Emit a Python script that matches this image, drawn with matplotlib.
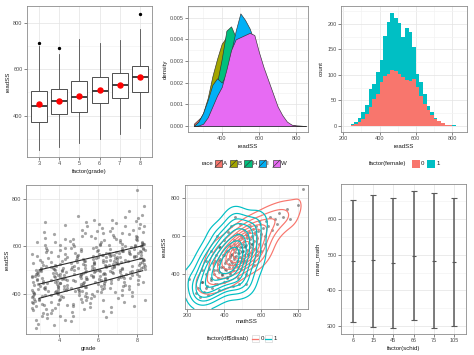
import numpy as np
import matplotlib
matplotlib.use('Agg')
import matplotlib.pyplot as plt
from matplotlib.patches import Rectangle
from matplotlib.lines import Line2D

plt.rcParams['font.family'] = ['Liberation Sans', 'DejaVu Sans']

# ---------------- data ----------------
# panel 1: boxplots of readSS by grade
grade_levels = ['3', '4', '5', '6', '7', '8']
box_whislo = [252, 267, 284, 300, 320, 345]
box_q1 = [374, 406, 417, 453, 474, 503]
box_med = [441, 463, 482, 505, 533, 565]
box_q3 = [507, 513, 548, 565, 585, 615]
box_whishi = [700, 665, 728, 711, 725, 771]
box_mean = [449, 463, 486, 510, 533, 565]
box_outliers = [[711], [690], [], [], [], [837]]

# panel 2: density of readSS by race
race_levels = ['A', 'B', 'H', 'I', 'W']
dens_x = [250, 275, 300, 325, 350, 375, 400, 425, 450, 475, 500, 525, 550,
          575, 600, 625, 650, 675, 700, 725, 750, 775, 800, 825, 850]
dens_A = [0.0001, 0.0003, 0.0005, 0.0008, 0.0012, 0.0017, 0.0022, 0.0027, 0.0031,
          0.0033, 0.0033, 0.0031, 0.0027, 0.0022, 0.0017, 0.0012, 0.0008, 0.0005,
          0.0003, 0.0002, 0.0001, 0.00005, 0.00002, 0.00001, 0]
dens_B = [0, 0.0002, 0.0006, 0.0013, 0.0023, 0.0031, 0.0038, 0.0041, 0.0038, 0.0031,
          0.0024, 0.0017, 0.0011, 0.0007, 0.0004, 0.0002, 0.0001, 0, 0, 0, 0, 0, 0, 0, 0]
dens_H = [0, 0.0001, 0.0003, 0.0007, 0.0013, 0.0020, 0.0031, 0.0044, 0.0046, 0.0041,
          0.0033, 0.0026, 0.0020, 0.0014, 0.0009, 0.0005, 0.0003, 0.0001, 0.00005,
          0, 0, 0, 0, 0, 0]
dens_I = [0, 0.0002, 0.0006, 0.0012, 0.0019, 0.0022, 0.0020, 0.0024, 0.0034, 0.0044,
          0.0052, 0.0049, 0.0045, 0.0039, 0.0031, 0.0023, 0.0016, 0.0010, 0.0005,
          0.0002, 0.0001, 0, 0, 0, 0]
dens_W = [0, 0.00002, 0.0001, 0.0004, 0.0009, 0.0014, 0.0018, 0.0026, 0.0035, 0.0040,
          0.0041, 0.0042, 0.0043, 0.0042, 0.0034, 0.0027, 0.0021, 0.0015, 0.0009,
          0.0005, 0.0002, 0.00006, 0.00002, 0.00001, 0]

# panel 3: stacked histogram of readSS by female
bin_left = [240, 260, 280, 300, 320, 340, 360, 380, 400, 420, 440, 460, 480, 500, 520,
            540, 560, 580, 600, 620, 640, 660, 680, 700, 720, 740, 760, 780, 800, 820]
female0_counts = [1, 3, 7, 13, 23, 37, 52, 63, 85, 97, 101, 110, 107, 101, 95,
                  90, 88, 92, 76, 58, 42, 30, 21, 14, 9, 5, 2, 1, 0, 0]
female1_counts = [2, 5, 8, 13, 17, 35, 30, 42, 44, 80, 102, 111, 105, 100, 79,
                  102, 96, 62, 26, 27, 20, 9, 5, 2, 1, 0, 0, 0, 1, 0]

# panel 4: jittered readSS by grade with quantile lines
grade_values = [3, 4, 5, 6, 7, 8]
read_g3 = [255, 272, 288, 296, 305, 314, 320, 329, 335, 341, 347, 352, 356, 361, 365, 369, 372,
           376, 379, 384, 388, 391, 395, 399, 402, 407, 410, 414, 418, 421, 425, 429, 432, 436, 439,
           443, 447, 450, 454, 458, 462, 465, 469, 473, 476, 480, 484, 488, 491, 495, 499, 502, 505,
           510, 516, 523, 529, 536, 543, 551, 558, 566, 575, 584, 594, 606, 620, 637, 660, 705]
read_g4 = [268, 290, 306, 318, 330, 341, 350, 358, 365, 372, 378, 384, 389, 394, 398, 402, 405,
           408, 411, 415, 418, 421, 424, 428, 431, 434, 437, 441, 444, 447, 450, 453, 456, 459, 462,
           464, 467, 469, 472, 475, 478, 480, 483, 486, 489, 492, 495, 498, 501, 504, 507, 510, 512,
           516, 521, 527, 533, 540, 546, 553, 560, 568, 576, 585, 595, 606, 618, 633, 652, 690]
read_g5 = [285, 305, 322, 335, 346, 356, 364, 372, 378, 384, 390, 396, 401, 405, 409, 413, 416,
           419, 423, 427, 430, 434, 438, 442, 445, 449, 453, 457, 460, 464, 468, 471, 475, 478, 481,
           484, 488, 492, 495, 499, 503, 507, 510, 514, 518, 522, 525, 529, 533, 537, 540, 544, 547,
           552, 558, 565, 572, 579, 587, 595, 603, 612, 621, 631, 642, 655, 669, 685, 704, 727]
read_g6 = [302, 325, 345, 360, 372, 382, 391, 399, 406, 413, 419, 425, 431, 437, 442, 447, 451,
           455, 458, 461, 464, 467, 470, 473, 476, 479, 482, 485, 488, 491, 494, 497, 500, 502, 504,
           508, 511, 515, 518, 522, 525, 529, 532, 536, 539, 543, 546, 550, 553, 556, 559, 562, 564,
           569, 574, 580, 586, 592, 598, 605, 612, 619, 627, 636, 645, 655, 666, 679, 694, 710]
read_g7 = [322, 345, 365, 381, 394, 405, 415, 423, 431, 438, 445, 451, 456, 461, 465, 469, 472,
           476, 479, 483, 486, 490, 493, 497, 500, 503, 507, 510, 514, 517, 521, 524, 527, 530, 532,
           535, 538, 541, 544, 547, 550, 553, 556, 559, 562, 565, 568, 571, 574, 577, 580, 582, 584,
           589, 594, 600, 606, 612, 618, 625, 632, 640, 648, 657, 666, 676, 688, 700, 713, 724]
read_g8 = [347, 372, 392, 408, 421, 432, 442, 451, 459, 466, 473, 479, 485, 490, 495, 499, 502,
           505, 509, 512, 516, 519, 523, 527, 530, 534, 537, 541, 544, 548, 551, 555, 558, 561, 564,
           567, 570, 573, 576, 579, 582, 585, 588, 591, 594, 597, 600, 603, 606, 608, 610, 612, 614,
           619, 625, 631, 638, 645, 652, 660, 668, 677, 686, 696, 707, 719, 732, 748, 770, 837]
qline_grade = [2.97, 8.3]
qline_q25 = [380, 497]
qline_q50 = [440, 550]
qline_q75 = [500, 603]

# panel 5: readSS vs mathSS by disab
math_d0 = [330, 345, 360, 365, 375, 380, 390, 395, 400, 405, 410, 415, 420, 425, 430, 432, 438, 440,
           445, 448, 452, 455, 458, 460, 463, 466, 470, 472, 475, 478, 480, 482, 485, 488, 490, 492,
           495, 498, 500, 503, 505, 508, 510, 513, 516, 518, 520, 523, 526, 530, 533, 536, 540, 543,
           546, 550, 553, 556, 560, 565, 570, 575, 580, 585, 590, 595, 600, 610, 620, 630, 640, 650,
           660, 675, 690, 700, 720, 740, 760, 800, 830, 350, 370, 600, 620, 300, 280, 560, 580]
read_d0 = [380, 420, 350, 455, 410, 480, 395, 440, 500, 430, 470, 385, 520, 455, 490, 410, 540, 470,
           505, 440, 560, 480, 515, 455, 530, 495, 470, 550, 510, 440, 580, 525, 490, 545, 465, 600,
           515, 540, 485, 560, 520, 575, 500, 540, 470, 610, 555, 525, 590, 505, 565, 620, 540, 585,
           510, 600, 560, 635, 575, 530, 610, 650, 590, 625, 560, 660, 610, 640, 600, 680, 650, 700,
           630, 690, 660, 720, 700, 740, 690, 760, 845, 470, 540, 520, 560, 330, 360, 470, 500]
math_d1 = [245, 260, 270, 280, 290, 300, 305, 315, 320, 330, 335, 340, 345, 350, 355, 360, 365, 370,
           375, 380, 385, 390, 395, 398, 400, 405, 410, 413, 416, 420, 423, 426, 430, 433, 436, 440,
           443, 446, 450, 453, 456, 460, 463, 466, 470, 473, 476, 480, 483, 486, 490, 495, 500, 505,
           510, 515, 520, 525, 530, 540, 550, 560, 570, 580, 590, 330, 300, 360, 280, 520, 480, 450, 210]
read_d1 = [300, 330, 280, 360, 310, 400, 340, 290, 430, 370, 330, 460, 400, 350, 500, 420, 380, 470,
           320, 540, 440, 400, 500, 360, 580, 460, 420, 520, 380, 620, 480, 440, 550, 400, 500, 650,
           460, 530, 420, 580, 490, 700, 450, 540, 610, 470, 380, 560, 510, 660, 430, 590, 520, 470,
           630, 550, 400, 600, 500, 650, 560, 450, 620, 520, 680, 520, 470, 600, 420, 350, 350, 340, 375]

# panel 6: range of mathSS by school
schid_levels = ['6', '15', '45', '66', '75', '105']
mean_math = [482, 484, 477, 497, 483, 479]
math_lo = [311, 299, 296, 318, 296, 301]
math_hi = [653, 666, 659, 678, 673, 659]

# ---------------- styling helpers ----------------
W, H = 474, 355
fig = plt.figure(figsize=(4.74, 3.55), dpi=100)
fig.patch.set_facecolor('white')

RED = '#F8766D'
TEAL = '#00BFC4'
RACE_COLORS = ['#F8766D', '#A3A500', '#00BF7D', '#00B0F6', '#E76BF3']
TICK_FS = 4.0
LAB_FS = 4.4


def fx(px):
    return px / W


def fy(py):
    return 1 - py / H


def add_ax(box):
    x0, y0, x1, y1 = box
    return fig.add_axes([x0 / W, 1 - y1 / H, (x1 - x0) / W, (y1 - y0) / H])


def style(ax, xmaj, ymaj, xmin=(), ymin=(), xlabels=None, ylabels=None):
    ax.set_xticks(xmaj)
    ax.set_yticks(ymaj)
    if xlabels is not None:
        ax.set_xticklabels(xlabels)
    if ylabels is not None:
        ax.set_yticklabels(ylabels)
    ax.set_xticks(list(xmin), minor=True)
    ax.set_yticks(list(ymin), minor=True)
    ax.tick_params(which='minor', length=0)
    ax.tick_params(which='major', length=2, width=0.5, color='#555555',
                   labelsize=TICK_FS, labelcolor='#4d4d4d', pad=1.2)
    ax.grid(which='major', color='#e3e3e3', linewidth=0.5)
    ax.grid(which='minor', color='#f3f3f3', linewidth=0.5)
    ax.set_axisbelow(True)
    for s in ax.spines.values():
        s.set_color('#8c8c8c')
        s.set_linewidth(0.6)


def labels(ax, box, xlab, ylab, xl_cy, yl_cx):
    x0, y0, x1, y1 = box
    ax.set_xlabel(xlab, fontsize=LAB_FS, color='#1a1a1a')
    ax.set_ylabel(ylab, fontsize=LAB_FS, color='#1a1a1a')
    ax.xaxis.set_label_coords(0.5, (y1 - (xl_cy - 2.8)) / (y1 - y0))
    ax.yaxis.set_label_coords((yl_cx + 2.8 - x0) / (x1 - x0), 0.5)


def jitter_offsets(n, seed, width):
    # deterministic hash-based horizontal jitter (display position only)
    k = np.arange(n) * 12.9898 + seed * 78.233
    u = (np.sin(k) * 43758.5453) % 1.0
    return (u - 0.5) * 2 * width


# ---------------- panel 1 ----------------
box1 = (27, 6, 152, 157)
ax1 = add_ax(box1)
stats = []
for i, g in enumerate(grade_levels):
    stats.append(dict(med=box_med[i], q1=box_q1[i], q3=box_q3[i],
                      whislo=box_whislo[i], whishi=box_whishi[i],
                      fliers=box_outliers[i], mean=box_mean[i], label=g))
pos1 = np.arange(1, len(grade_levels) + 1)
ax1.bxp(stats, positions=pos1, widths=0.8, patch_artist=True, showmeans=True,
        showcaps=False, manage_ticks=False,
        boxprops=dict(facecolor='white', edgecolor='#333333', linewidth=0.6),
        whiskerprops=dict(color='#4d4d4d', linewidth=0.6),
        medianprops=dict(color='#333333', linewidth=1.3),
        meanprops=dict(marker='o', markerfacecolor='#ff0000', markeredgecolor='#ff0000',
                       markersize=3.6),
        flierprops=dict(marker='o', markerfacecolor='black', markeredgecolor='black',
                        markersize=1.4))
ax1.set_xlim(0.4, 6.6)
ax1.set_ylim(222, 872)
style(ax1, pos1, [400, 600, 800], ymin=[300, 500, 700], xlabels=grade_levels)
labels(ax1, box1, 'factor(grade)', 'readSS', 171.5, 7.5)

# ---------------- panel 2 ----------------
box2 = (188, 6, 308, 132)
ax2 = add_ax(box2)
for vals, c in zip([dens_A, dens_B, dens_H, dens_I, dens_W], RACE_COLORS):
    ax2.fill_between(dens_x, vals, 0, facecolor=c, edgecolor='#333333', linewidth=0.45)
ax2.set_xlim(219, 863)
ax2.set_ylim(-0.00028, 0.00554)
style(ax2, [400, 600, 800], [0, 0.001, 0.002, 0.003, 0.004, 0.005],
      xmin=[300, 500, 700], ymin=[0.0005, 0.0015, 0.0025, 0.0035, 0.0045, 0.0055],
      ylabels=['0.000', '0.001', '0.002', '0.003', '0.004', '0.005'])
labels(ax2, box2, 'readSS', 'density', 146.5, 164.5)

# legend: race
fig.text(fx(208), fy(163.8), 'race', ha='center', va='center', fontsize=LAB_FS, color='#1a1a1a')
race_key_x = [215, 229.5, 244.3, 258.5, 272.8]
for kx, c, lab in zip(race_key_x, RACE_COLORS, race_levels):
    fig.add_artist(Rectangle((fx(kx), fy(167.3)), 7.2 / W, 7.2 / H, transform=fig.transFigure,
                             facecolor=c, edgecolor='#333333', linewidth=0.45))
    fig.add_artist(Line2D([fx(kx), fx(kx + 7.2)], [fy(167.3), fy(160.1)],
                          transform=fig.transFigure, color='#333333', linewidth=0.45))
    fig.text(fx(kx + 8.3), fy(163.8), lab, ha='left', va='center', fontsize=LAB_FS,
             color='#1a1a1a')

# ---------------- panel 3 ----------------
box3 = (341, 6, 467, 132)
ax3 = add_ax(box3)
ax3.bar(bin_left, female0_counts, width=20, align='edge', color=RED, linewidth=0)
ax3.bar(bin_left, female1_counts, width=20, align='edge', bottom=female0_counts,
        color=TEAL, linewidth=0)
ax3.set_xlim(187, 883)
ax3.set_ylim(-12.4, 235.4)
style(ax3, [200, 400, 600, 800], [0, 50, 100, 150, 200],
      xmin=[300, 500, 700], ymin=[25, 75, 125, 175, 225])
labels(ax3, box3, 'readSS', 'count', 146.5, 321)

fig.text(fx(388), fy(163.8), 'factor(female)', ha='center', va='center', fontsize=LAB_FS,
         color='#1a1a1a')
for kx, c, lab in zip([411.5, 426.5], [RED, TEAL], ['0', '1']):
    fig.add_artist(Rectangle((fx(kx), fy(168)), 8.2 / W, 8.2 / H, transform=fig.transFigure,
                             facecolor=c, edgecolor='none'))
    fig.text(fx(kx + 9.6), fy(163.8), lab, ha='left', va='center', fontsize=LAB_FS,
             color='#1a1a1a')

# ---------------- panel 4 ----------------
box4 = (26, 185, 152, 334)
ax4 = add_ax(box4)
for g, vals in zip(grade_values, [read_g3, read_g4, read_g5, read_g6, read_g7, read_g8]):
    offs = jitter_offsets(len(vals), g, 0.44)
    ax4.plot(g + offs, vals, 'o', color='#3a3a3a', alpha=0.45, markersize=2.3,
             markeredgewidth=0)
for q in [qline_q25, qline_q50, qline_q75]:
    ax4.plot(qline_grade, q, color='#2b2b2b', linewidth=0.8)
ax4.set_xlim(2.3, 8.78)
ax4.set_ylim(229, 860)
style(ax4, [4, 6, 8], [400, 600, 800], xmin=[3, 5, 7], ymin=[300, 500, 700])
labels(ax4, box4, 'grade', 'readSS', 348.5, 6.5)

# ---------------- panel 5 ----------------
box5 = (185, 185, 308, 309)
ax5 = add_ax(box5)


def kde_grid(xs, ys, gx, gy):
    xs = np.asarray(xs, float)
    ys = np.asarray(ys, float)
    n = xs.size

    def bw(v):
        q75, q25 = np.percentile(v, [75, 25])
        return 1.06 * min(v.std(ddof=1), (q75 - q25) / 1.34) * n ** (-0.2)
    hx, hy = bw(xs), bw(ys)
    kx = np.exp(-0.5 * ((gx[:, None] - xs[None, :]) / hx) ** 2)
    ky = np.exp(-0.5 * ((gy[:, None] - ys[None, :]) / hy) ** 2)
    return ky @ kx.T / (n * 2 * np.pi * hx * hy)


gx = np.linspace(190, 850, 160)
gy = np.linspace(220, 860, 160)
ax5.plot(math_d0 + math_d1, read_d0 + read_d1, 'o', color='#333333', alpha=0.5,
         markersize=2.1, markeredgewidth=0)
frac = np.array([0.06, 0.16, 0.27, 0.38, 0.5, 0.62, 0.74, 0.86])
for mx, ry, c in [(math_d0, read_d0, RED), (math_d1, read_d1, TEAL)]:
    z = kde_grid(mx, ry, gx, gy)
    ax5.contour(gx, gy, z, levels=z.max() * frac, colors=c, linewidths=0.85)
ax5.set_xlim(187.5, 856)
ax5.set_ylim(219, 866)
style(ax5, [200, 400, 600, 800], [400, 600, 800], xmin=[300, 500, 700],
      ymin=[300, 500, 700])
labels(ax5, box5, 'mathSS', 'readSS', 322, 163.5)

fig.text(fx(228), fy(338.5), 'factor(df$disab)', ha='center', va='center', fontsize=LAB_FS,
         color='#1a1a1a')
for kx, c, lab in zip([251.7, 264.5], [RED, TEAL], ['0', '1']):
    fig.add_artist(Rectangle((fx(kx), fy(342.2)), 7.3 / W, 7.3 / H, transform=fig.transFigure,
                             facecolor='white', edgecolor='#cccccc', linewidth=0.4))
    fig.add_artist(Line2D([fx(kx + 0.6), fx(kx + 6.7)], [fy(338.5), fy(338.5)],
                          transform=fig.transFigure, color=c, linewidth=0.9))
    fig.text(fx(kx + 8.8), fy(338.5), lab, ha='left', va='center', fontsize=LAB_FS,
             color='#1a1a1a')

# ---------------- panel 6 ----------------
box6 = (341, 184, 466, 334)
ax6 = add_ax(box6)
pos6 = np.arange(1, len(schid_levels) + 1)
mm = np.array(mean_math)
ax6.errorbar(pos6, mm, yerr=[mm - np.array(math_lo), np.array(math_hi) - mm], fmt='_',
             color='#555555', ecolor='#5a5a5a', elinewidth=1.1, capsize=2.4, capthick=0.9,
             markersize=3.0, markeredgewidth=0.8)
ax6.set_xlim(0.4, 6.6)
ax6.set_ylim(278, 698)
style(ax6, pos6, [300, 400, 500, 600], ymin=[350, 450, 550, 650], xlabels=schid_levels)
labels(ax6, box6, 'factor(schid)', 'mean_math', 348.5, 317.5)

fig.savefig('out.png', dpi=100)
